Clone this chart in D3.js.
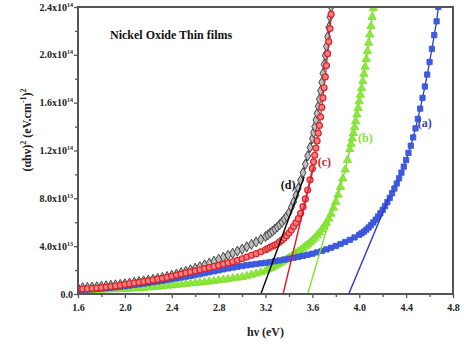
<!DOCTYPE html>
<html>
<head>
<meta charset="utf-8">
<script src="https://cdn.jsdelivr.net/npm/d3@7"></script>
<style>
  html, body { margin: 0; padding: 0; background: #fff; }
  svg { display: block; font-family: "Liberation Serif", "Times New Roman", serif; font-weight: bold; }
</style>
</head>
<body>
<div id="chart"></div>
<script>
// ---------- DATA (y values in units of 1e12 (eV.cm^-1)^2) ----------
const xTicks = [1.6, 2.0, 2.4, 2.8, 3.2, 3.6, 4.0, 4.4, 4.8];
const xMinorTicks = [1.8, 2.2, 2.6, 3.0, 3.4, 3.8, 4.2, 4.6];
const yTicks = [0, 40, 80, 120, 160, 200, 240];
const yMinorTicks = [20, 60, 100, 140, 180, 220];
const yUnit = 1e12;

// (a) blue squares
const aE = [1.60,1.64,1.68,1.72,1.76,1.80,1.84,1.88,1.92,1.96,2.00,2.04,2.08,2.12,2.16,2.20,2.24,2.28,2.32,2.36,2.40,2.44,2.48,2.52,2.56,2.60,2.64,2.68,2.72,2.76,2.80,2.84,2.88,2.92,2.96,3.00,3.04,3.08,3.12,3.16,3.20,
  3.24,3.28,3.32,3.36,3.40,3.44,3.48,3.52,3.56,3.60,3.64,3.68,3.72,3.76,3.80,3.84,3.88,3.92,3.96,4.00,
  4.02,4.04,4.06,4.08,4.10,4.12,4.14,4.16,4.18,4.20,4.22,4.24,4.26,4.28,4.30,4.32,4.34,4.36,4.38,4.40,4.42,4.44,4.46,4.48,4.50,4.52,4.54,4.56,4.58,4.60,4.62,4.64,4.66,4.675];
const aV = [3.4,3.6,3.8,4.0,4.3,4.6,4.9,5.3,5.7,6.1,6.6,7.1,7.6,8.1,8.7,9.3,9.9,10.5,11.1,11.7,12.4,13.1,13.8,14.5,15.2,15.9,16.6,17.4,18.2,19.0,19.8,20.6,21.4,22.1,22.8,23.4,24.0,24.6,25.1,25.6,26.1,
  26.7,27.4,28.1,28.8,29.5,30.3,31.1,31.9,32.8,33.7,34.8,36.0,37.3,38.7,40.2,41.8,43.5,45.3,47.3,49.5,
  50.8,52.2,53.8,55.6,57.6,59.8,62.2,64.8,67.5,70.4,73.5,76.8,80.4,84.2,88.2,92.4,96.8,101.5,106.5,112,118,124,131,138.5,146.5,155,164,173.5,183.5,194,205,216.5,228,240];

// (b) green triangles
const bE = [1.60,1.64,1.68,1.72,1.76,1.80,1.84,1.88,1.92,1.96,2.00,2.04,2.08,2.12,2.16,2.20,2.24,2.28,2.32,2.36,2.40,2.44,2.48,2.52,2.56,2.60,2.64,2.68,2.72,2.76,2.80,2.84,2.88,2.92,2.96,3.00,3.04,3.08,3.12,3.16,3.20,
  3.22,3.24,3.26,3.28,3.30,3.32,3.34,3.36,3.38,3.40,3.42,3.44,3.46,3.48,3.50,3.52,3.54,3.56,3.58,3.60,3.62,3.64,3.66,3.68,3.70,3.72,3.74,3.76,3.78,3.80,3.82,3.84,3.86,3.88,3.90,3.92,
  3.93,3.94,3.95,3.96,3.97,3.98,3.99,4.00,4.01,4.02,4.03,4.04,4.05,4.06,4.07,4.08,4.09,4.10,4.11,4.12];
const bV = [2.5,2.7,2.9,3.1,3.3,3.5,3.7,3.8,3.9,4.0,4.2,4.4,4.6,4.8,5.1,5.4,5.7,6.0,6.4,6.8,7.2,7.6,8.0,8.4,8.8,9.2,9.6,10.0,10.4,10.9,11.4,11.9,12.4,13.0,13.6,14.2,15.1,16.0,17.0,18.1,19.3,
  20.5,21.5,22.5,23.5,24.6,25.7,26.8,27.9,29.0,30.2,31.4,32.7,34.0,35.4,36.8,38.3,39.8,41.3,43.0,44.8,46.8,49.0,51.3,53.8,56.5,59.5,63.0,67.0,72.0,77.0,83.0,89.5,96.5,104,112,121,
  125.5,130,134.5,139.5,144.5,150,155.5,161,166.5,172,178,184,190,196.5,203,210,217,224,231.5,239];

// (c) red circles
const cE = [1.60,1.64,1.68,1.72,1.76,1.80,1.84,1.88,1.92,1.96,2.00,2.04,2.08,2.12,2.16,2.20,2.24,2.28,2.32,2.36,2.40,2.44,2.48,2.52,2.56,2.60,2.64,2.68,2.72,2.76,2.80,2.84,2.88,2.92,2.96,3.00,3.04,3.08,3.12,3.16,3.20,
  3.22,3.24,3.26,3.28,3.30,3.32,3.34,3.36,3.38,3.40,3.42,3.44,3.46,3.48,3.50,3.52,3.54,3.56,3.58,3.60,
  3.61,3.62,3.63,3.64,3.65,3.66,3.67,3.68,3.69,3.70,3.71,3.72,3.73,3.74,3.75,3.76];
const cV = [4.0,4.2,4.4,4.7,5.0,5.4,5.8,6.2,6.7,7.3,8.0,8.6,9.2,9.8,10.4,11.0,11.7,12.4,13.1,13.9,14.8,15.8,16.7,17.6,18.5,19.4,20.3,21.2,22.1,23.0,24.0,25.0,26.0,27.0,28.2,29.5,30.9,32.3,33.7,35.3,37.0,
  38.0,39.0,40.0,41.0,42.0,43.5,45.0,46.8,48.8,51.0,53.5,56.5,59.5,63.0,67.5,73.0,79.5,87.0,95.5,105,
  110.5,116,122,128,134.5,141,148,156,164,172.5,181.5,191,201,211,222,234];

// (d) black / grey diamonds
const dE = [1.60,1.64,1.68,1.72,1.76,1.80,1.84,1.88,1.92,1.96,2.00,2.04,2.08,2.12,2.16,2.20,2.24,2.28,2.32,2.36,2.40,2.44,2.48,2.52,2.56,2.60,2.64,2.68,2.72,2.76,2.80,2.84,2.88,2.92,2.96,3.00,3.04,3.08,3.12,3.16,3.20,
  3.22,3.24,3.26,3.28,3.30,3.32,3.34,3.36,3.38,3.40,3.42,3.44,3.46,3.48,3.50,3.52,3.54,3.56,3.58,
  3.60,3.61,3.62,3.63,3.64,3.65,3.66,3.67,3.68,3.69,3.70,3.71,3.72,3.73,3.74,3.75,3.76];
const dV = [5.0,5.2,5.4,5.7,6.0,6.5,6.8,7.2,7.6,8.0,8.5,9.1,9.7,10.3,10.9,11.5,12.2,13.0,13.8,14.6,15.5,16.6,17.8,19.0,20.2,21.5,22.9,24.3,25.8,27.4,29.0,30.7,32.4,34.1,35.8,37.5,39.5,41.5,43.5,45.6,48.0,
  49.5,51.0,52.6,54.3,56.0,58.0,60.0,62.5,65.0,68.0,72.5,77.0,82.5,88.5,95.0,101.5,108.5,115.5,122.5,
  130,135,140,145.5,151,157,163,170,177,184.5,192,199.5,207,215,223,231.5,240];

// linear (Tauc) fits: end points [E, value]
const fitA = [[3.91, 0], [4.26, 82]];
const fitB = [[3.56, 0], [3.86, 100]];
const fitC = [[3.35, 0], [3.61, 106]];
const fitD = [[3.16, 0], [3.53, 98]];

const seriesLabels = ["(a)", "(b)", "(c)", "(d)"];
const labelPos = [[4.50, 140], [3.99, 127], [3.645, 107], [3.33, 88]]; // [E, value] of label baseline start
const titleText = "Nickel Oxide Thin films";

// ---------- LAYOUT ----------
const W = 474, H = 349;
const M = { left: 78, top: 7, right: 453, bottom: 294 };

const svg = d3.select("#chart").append("svg").attr("width", W).attr("height", H);

const x = d3.scaleLinear().domain([1.6, 4.8]).range([M.left, M.right]);
const y = d3.scaleLinear().domain([0, 240]).range([M.bottom, M.top]);

svg.append("defs").append("clipPath").attr("id", "clip")
  .append("rect").attr("x", M.left).attr("y", M.top).attr("width", M.right - M.left).attr("height", M.bottom - M.top);

const plot = svg.append("g").attr("clip-path", "url(#clip)");

const zip = (E, V) => E.map((e, i) => [e, V[i]]);
const line = d3.line().x(d => x(d[0])).y(d => y(d[1]));

function drawSeries(data, opt) {
  const g = plot.append("g");
  g.append("path").datum(data).attr("d", line)
    .attr("fill", "none").attr("stroke", opt.line).attr("stroke-width", 1.3);
  g.selectAll("path.m").data(data).enter().append("path")
    .attr("class", "m")
    .attr("transform", d => `translate(${x(d[0])},${y(d[1])})`)
    .attr("d", d3.symbol().type(opt.type).size(opt.size))
    .attr("fill", opt.fill).attr("stroke", opt.stroke).attr("stroke-width", opt.sw);
}

drawSeries(zip(bE, bV), { type: d3.symbolTriangle, size: 30, fill: "#8de83c", stroke: "#7cdc2c", sw: 0.8, line: "#7bd82a" });
drawSeries(zip(aE, aV), { type: d3.symbolSquare, size: 28, fill: "#3f5be0", stroke: "#3450d8", sw: 0.8, line: "#2a3fc8" });
drawSeries(zip(dE, dV), { type: d3.symbolDiamond, size: 30, fill: "#bdbdbd", stroke: "#444", sw: 1, line: "#111" });
drawSeries(zip(cE, cV), { type: d3.symbolCircle, size: 28, fill: "#ee8080", stroke: "#e0202a", sw: 1.2, line: "#e0202a" });

const fits = [[fitA, "#2a36d0"], [fitB, "#7fe52a"], [fitC, "#e01828"], [fitD, "#000"]];
fits.forEach(([f, c]) => {
  plot.append("path").datum(f).attr("d", line).attr("fill", "none").attr("stroke", c).attr("stroke-width", 1.4);
});

// ---------- AXES ----------
const axisColor = "#555";
const xAxis = d3.axisBottom(x).tickValues(xTicks).tickSize(4).tickPadding(6).tickFormat(d3.format(".1f"));
const xMinor = d3.axisBottom(x).tickValues(xMinorTicks).tickSize(3).tickFormat("");
const yAxis = d3.axisLeft(y).tickValues(yTicks).tickSize(4).tickPadding(3).tickFormat("");
const yMinor = d3.axisLeft(y).tickValues(yMinorTicks).tickSize(3).tickFormat("");

function styleAxis(g) {
  g.select(".domain").remove();
  g.selectAll(".tick line").attr("stroke", axisColor).attr("stroke-width", 1.3);
  g.selectAll("text").attr("fill", "#222").style("font-size", "10px").style("font-weight", "bold")
    .style("font-family", "'Liberation Serif', serif");
}
svg.append("g").attr("transform", `translate(0,${M.bottom})`).call(xAxis).call(styleAxis);
svg.append("g").attr("transform", `translate(0,${M.bottom})`).call(xMinor).call(styleAxis);
svg.append("g").attr("transform", `translate(${M.left},0)`).call(yAxis).call(styleAxis);
svg.append("g").attr("transform", `translate(${M.left},0)`).call(yMinor).call(styleAxis);

// frame
svg.append("rect").attr("x", M.left).attr("y", M.top).attr("width", M.right - M.left).attr("height", M.bottom - M.top)
  .attr("fill", "none").attr("stroke", axisColor).attr("stroke-width", 2);

// y tick labels with scientific notation
yTicks.forEach(v => {
  const t = svg.append("text").attr("x", M.left - 5).attr("y", y(v) + 3.5)
    .attr("text-anchor", "end").attr("fill", "#222").style("font-size", "10px");
  if (v === 0) { t.text("0.0"); return; }
  const val = v * yUnit;
  const exp = Math.floor(Math.log10(val));
  const man = (val / Math.pow(10, exp)).toFixed(1);
  t.append("tspan").text(man + "x10");
  t.append("tspan").attr("dy", -4).style("font-size", "6px").text(exp);
});

// axis titles
svg.append("text").attr("x", (M.left + M.right) / 2).attr("y", 336).attr("text-anchor", "middle")
  .attr("fill", "#222").style("font-size", "12px").text("hν (eV)");

const yt = svg.append("text").attr("transform", "translate(31,130) rotate(-90)").attr("text-anchor", "middle")
  .attr("fill", "#222").style("font-size", "12px");
yt.append("tspan").text("(αhν)");
yt.append("tspan").attr("dy", -5).style("font-size", "8px").text("2");
yt.append("tspan").attr("dy", 5).text(" (eV.cm");
yt.append("tspan").attr("dy", -5).style("font-size", "8px").text("-1");
yt.append("tspan").attr("dy", 5).text(")");
yt.append("tspan").attr("dy", -5).style("font-size", "8px").text("2");

// title
svg.append("text").attr("x", 110).attr("y", 39).attr("fill", "#111").style("font-size", "12px").text(titleText);

// series labels
const labelColors = ["#3a40b8", "#86e03a", "#d0202e", "#111"];
seriesLabels.forEach((s, i) => {
  svg.append("text").attr("x", x(labelPos[i][0])).attr("y", y(labelPos[i][1]))
    .attr("fill", labelColors[i]).style("font-size", "12px").text(s);
});
</script>
</body>
</html>
